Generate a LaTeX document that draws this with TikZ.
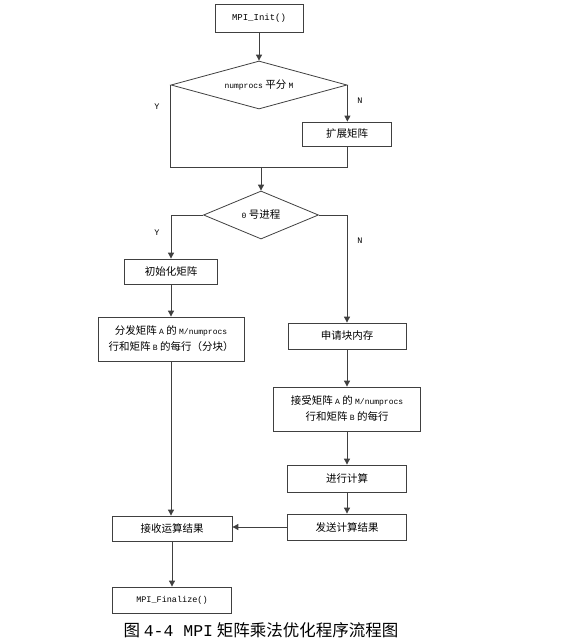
\documentclass[tikz,border=0pt]{standalone}
\usepackage{fontspec}
\setmainfont{Noto Sans CJK SC}
\newfontfamily\mono{Liberation Mono}
\usetikzlibrary{shapes.geometric,arrows.meta}

\newcommand{\lat}[1]{{\mono\fontsize{8}{9}\selectfont #1}}

\tikzset{
    box/.style={draw=black!75, line width=0.8pt, minimum height=26pt, inner sep=2pt, align=center, font=\fontsize{10.5}{16}\selectfont},
    cond/.style={diamond, draw=black!75, line width=0.8pt, inner sep=0pt, aspect=3, font=\fontsize{10.5}{13}\selectfont},
    line/.style={draw=black!75, line width=0.9pt},
    arr/.style={line, -{Triangle[length=6pt,width=6pt]}},
    yn/.style={font=\mono\fontsize{8.5}{9}\selectfont}
}

\begin{document}
\begin{tikzpicture}[x=1pt,y=-1pt]
    \useasboundingbox (0,0) rectangle (571,644);

    % Inicio y primera decision
    \node[box, minimum width=88pt, minimum height=28pt] (init) at (259,18) {{\mono\fontsize{9}{10}\selectfont MPI\_Init()}};
    \node[cond, minimum width=176pt, minimum height=48pt] (split) at (259,85) {\lat{numprocs} 平分 \lat{M}};
    \node[box, minimum width=89pt, minimum height=24pt] (expand) at (347,134) {扩展矩阵};
    \coordinate (join) at (261,167);

    % Segunda decision
    \node[cond, minimum width=115pt, minimum height=48pt] (rank) at (261,215) {\lat{0} 号进程};

    % Rama del proceso 0
    \node[box, minimum width=93pt, minimum height=25pt] (initm) at (171,271.5) {初始化矩阵};
    \node[box, minimum width=146pt, minimum height=44pt] (dist) at (171,339) {分发矩阵 \lat{A} 的 \lat{M/numprocs}\\行和矩阵 \lat{B} 的每行（分块）};
    \node[box, minimum width=120pt, minimum height=25pt] (collect) at (172,528.5) {接收运算结果};
    \node[box, minimum width=119pt, minimum height=26pt] (fin) at (172,600) {{\mono\fontsize{8.5}{10}\selectfont MPI\_Finalize()}};

    % Rama de los demas procesos
    \node[box, minimum width=118pt, minimum height=26pt] (alloc) at (347,336) {申请块内存};
    \node[box, minimum width=147pt, minimum height=44pt] (recv) at (347,409) {接受矩阵 \lat{A} 的 \lat{M/numprocs}\\行和矩阵 \lat{B} 的每行};
    \node[box, minimum width=119pt, minimum height=27pt] (calc) at (347,478.5) {进行计算};
    \node[box, minimum width=119pt, minimum height=26pt] (send) at (347,527) {发送计算结果};

    \node[yn] (y1) at (157,107) {Y};
    \node[yn] (n1) at (360,101) {N};
    \node[yn] (y2) at (157,233) {Y};
    \node[yn] (n2) at (360,241) {N};

    \draw[arr] (init) -- (split);
    \draw[arr] (split.east) -- (split.east |- expand.north);
    \draw[line] (split.west) -- (split.west |- join) -- (expand.south |- join) -- (expand.south);
    \draw[arr] (join) -- (rank.north);

    \draw[arr] (rank.west) -| (initm.north);
    \draw[arr] (rank.east) -| (alloc.north);
    \draw[arr] (initm) -- (dist);
    \draw[arr] (dist.south) -- (dist.south |- collect.north);
    \draw[arr] (collect) -- (fin);

    \draw[arr] (alloc) -- (recv);
    \draw[arr] (recv) -- (calc);
    \draw[arr] (calc) -- (send);
    \draw[arr] (send.west) -- (send.west -| collect.east);

    \node (cap) at (261,630) {\fontsize{16.5}{18}\selectfont 图 {\mono 4-4 MPI} 矩阵乘法优化程序流程图};
\end{tikzpicture}
\end{document}
